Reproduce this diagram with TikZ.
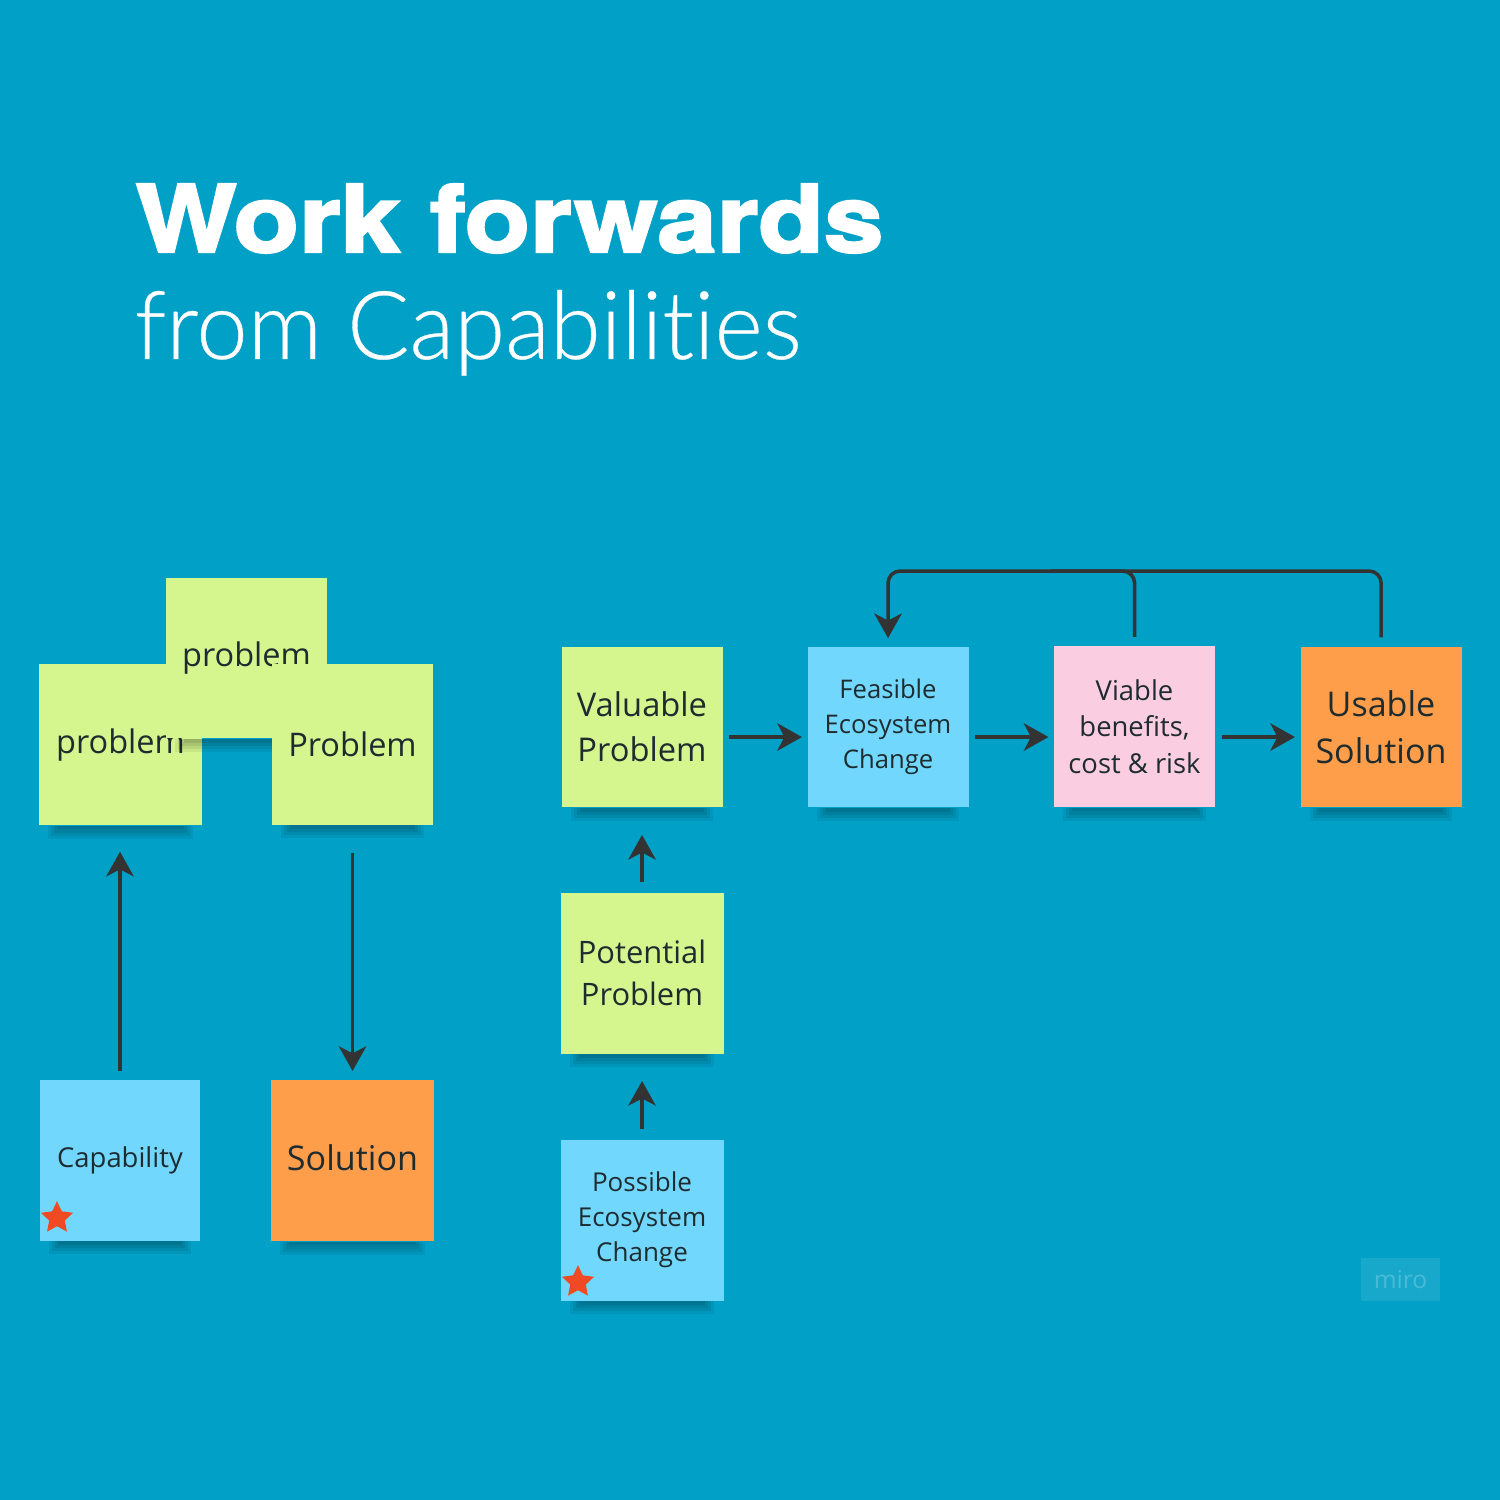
\documentclass[tikz,border=0pt]{standalone}
\usepackage{fontspec}
\usetikzlibrary{arrows.meta,shapes.geometric}
\setmainfont{Open Sans}
\newfontfamily\titleheavy[FakeBold=2.6,FakeStretch=1.15]{TeX Gyre Heros Bold}
\newfontfamily\titlelight[UprightFont={* Light},Ligatures=NoCommon,FakeStretch=0.973,FakeBold=0.3]{Lato}
\definecolor{wallblue}{HTML}{00A0C7}
\definecolor{notegreen}{HTML}{D5F58E}
\definecolor{noteblue}{HTML}{72D7FC}
\definecolor{noteorange}{HTML}{FF9E4A}
\definecolor{notepink}{HTML}{FBCDE1}
\definecolor{linkgrey}{HTML}{333333}
\definecolor{starred}{HTML}{F04A24}
\definecolor{inkdark}{HTML}{1E2C30}
\begin{document}
\begin{tikzpicture}[scale=0.1]
                \tikzset{note/.style={rectangle, inner sep=0pt, minimum size=1.61cm, align=center, text=inkdark,
                        font=\fontsize{9.25}{11.4}\selectfont,
                        append after command={\pgfextra{
                                \fill [black, fill opacity=0.06] ([xshift=1.0cm]\tikzlastnode.south west) rectangle ([xshift=-1.0cm,yshift=-1.3cm]\tikzlastnode.south east);
                                \fill [black, fill opacity=0.07] ([xshift=1.3cm]\tikzlastnode.south west) rectangle ([xshift=-1.3cm,yshift=-1.0cm]\tikzlastnode.south east);
                                \fill [black, fill opacity=0.08] ([xshift=1.6cm]\tikzlastnode.south west) rectangle ([xshift=-1.6cm,yshift=-0.7cm]\tikzlastnode.south east);
                                \fill [black, fill opacity=0.09] ([xshift=1.9cm]\tikzlastnode.south west) rectangle ([xshift=-1.9cm,yshift=-0.35cm]\tikzlastnode.south east);}}},
                        link/.style={draw=linkgrey, line width=1pt, -{Stealth[length=7pt, width=7.8pt, inset=2pt]}},
                        feedback/.style={draw=linkgrey, line width=1pt, rounded corners=3.4pt},
                        rated/.style={star, star points=5, star point ratio=2.05, fill=starred, inner sep=0pt, minimum size=9.6pt}}
                \fill [wallblue] (0,0) rectangle (150,-150);
                \node (heading) [anchor=base west, inner sep=0pt, text=white, font=\titleheavy\fontsize{26.5}{30}\selectfont] at (13.5,-25.2) {Work forwards};
                \node (subheading) [anchor=base west, inner sep=0pt, text=white, font=\titlelight\fontsize{27}{30}\selectfont] at (13.4,-35.9) {from Capabilities};
                \node (leftproblem) [note, fill=notegreen, minimum width=1.63cm, text height=7.4pt] at (12.05,-74.45) {problem};
                \node (topproblem) [note, fill=notegreen] at (24.65,-65.8) {problem};
                \node (rightproblem) [note, fill=notegreen] at (35.25,-74.4) {Problem};
                \node (capability) [note, fill=noteblue, font=\fontsize{7.8}{9}\selectfont] at (12.0,-116) {Capability};
                \node (solution) [note, fill=noteorange, minimum width=1.63cm, text depth=1.7pt, font=\fontsize{9.7}{12}\selectfont] at (35.25,-116.05) {Solution};
                \node (valuable) [note, fill=notegreen, font=\fontsize{9.3}{12.8}\selectfont] at (64.2,-72.7) {Valuable\\Problem};
                \node (potential) [note, fill=notegreen, minimum width=1.63cm, font=\fontsize{8.8}{11.9}\selectfont] at (64.2,-97.3) {Potential\\Problem};
                \node (possible) [note, fill=noteblue, minimum width=1.63cm, font=\fontsize{7.4}{10}\selectfont] at (64.2,-122) {Possible\\Ecosystem\\Change};
                \node (feasible) [note, fill=noteblue, font=\fontsize{7.3}{10}\selectfont] at (88.8,-72.7) {Feasible\\Ecosystem\\Change};
                \node (viable) [note, fill=notepink, font=\fontsize{7.8}{10.4}\selectfont] at (113.45,-72.65) {Viable\\benefits,\\cost \& risk};
                \node (usable) [note, fill=noteorange, font=\fontsize{9.7}{13.3}\selectfont] at (138.1,-72.7) {Usable\\Solution};
                \node (capabilitystar) [rated] at (5.7,-121.8) {};
                \node (possiblestar) [rated] at (57.8,-128.2) {};
                \node (watermark) [rectangle, fill=white, fill opacity=0.09, text opacity=0.22, text=white, inner sep=0pt, minimum width=0.79cm, minimum height=0.43cm, font=\fontsize{7}{8}\selectfont] at (140.05,-127.95) {miro};
                \coordinate (overhead) at (88.8,-57.1);
                \coordinate (junction) at (105,-57.1);
                \coordinate (flowline) at (88.8,-73.7);
                \draw [link, shorten <=2.2pt, shorten >=7.4pt] (capability.north) -- (capability.north |- leftproblem.south);
                \draw [link, shorten <=7.8pt, shorten >=2.4pt] (rightproblem.south) -- (solution.north);
                \draw [link, shorten <=2.8pt, shorten >=7.6pt] (possible.north) -- (potential.south);
                \draw [link, shorten <=2.8pt, shorten >=7.6pt] (potential.north) -- (valuable.south);
                \draw [link, shorten <=1.7pt, shorten >=1.4pt] (valuable.east |- flowline) -- (feasible.west |- flowline);
                \draw [link, shorten <=1.7pt, shorten >=1.4pt] (feasible.east |- flowline) -- (viable.west |- flowline);
                \draw [link, shorten <=1.7pt, shorten >=1.4pt] (viable.east |- flowline) -- (usable.west |- flowline);
                \draw [feedback, shorten <=2.4pt] (viable.north) |- (junction);
                \draw [link, rounded corners=3.4pt, shorten <=2.4pt, shorten >=2.2pt] (usable.north) |- (overhead) -- (feasible.north);
\end{tikzpicture}
\end{document}
